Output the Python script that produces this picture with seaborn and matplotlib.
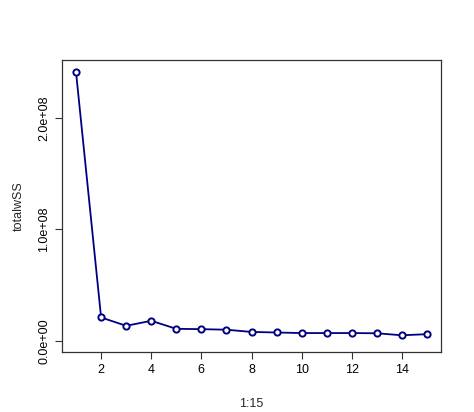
import matplotlib
matplotlib.use("Agg")
import matplotlib.pyplot as plt
import seaborn as sns
import pandas as pd

k = list(range(1, 16))
totalwss = [2.41e8, 2.1e7, 1.35e7, 1.8e7, 1.08e7, 1.05e7, 1.0e7, 0.8e7, 0.75e7, 0.7e7, 0.7e7, 0.7e7, 0.68e7, 0.5e7, 0.6e7]
yticks = [0, 1e8, 2e8]
ylabels = ["0.0e+00", "1.0e+08", "2.0e+08"]

sns.set_style("white")
plt.rcParams['font.family'] = ['Liberation Sans', 'DejaVu Sans']
df = pd.DataFrame({"k": k, "w": totalwss})
fig = plt.figure(figsize=(4.74, 4.12), dpi=100)
ax = fig.add_axes([62/474, 1-352/412, (441-62)/474, (352-60)/412])
sns.lineplot(data=df, x="k", y="w", ax=ax, color="#000080", lw=1.3,
             marker="o", markersize=4.5, markerfacecolor="white",
             markeredgecolor="#000080", markeredgewidth=1.4)
ax.set_xlim(0.44, 15.56)
ax.set_ylim(-0.1e8, 2.52e8)
ax.set_xticks([2, 4, 6, 8, 10, 12, 14])
ax.set_yticks(yticks)
ax.set_yticklabels(ylabels, rotation=90, va="center")
ax.tick_params(direction="out", length=5, width=0.8, colors="#333333", labelsize=9, labelcolor="black", left=True, bottom=True)
for s in ax.spines.values():
    s.set_color("#333333"); s.set_linewidth(0.9); s.set_visible(True)
ax.set_xlabel("1:15", fontsize=9, labelpad=16)
ax.set_ylabel("totalwSS", fontsize=9, labelpad=10)
fig.savefig("out.png", dpi=100)
